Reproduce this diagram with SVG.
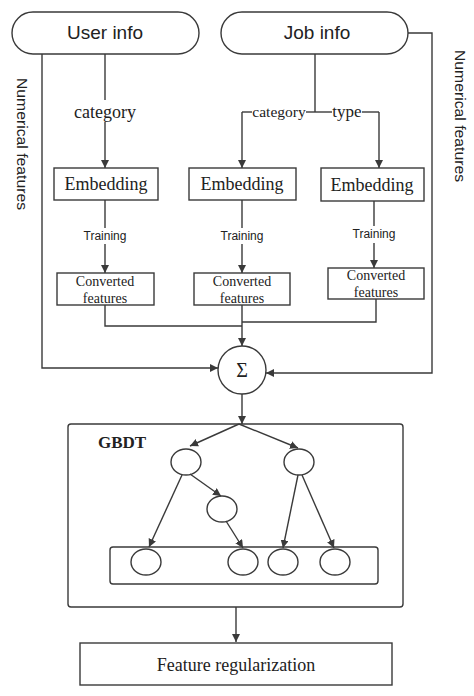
<svg xmlns="http://www.w3.org/2000/svg" width="474" height="696" viewBox="0 0 474 696">
<defs>
<marker id="ah" viewBox="0 0 10 10" refX="10" refY="5" markerWidth="8" markerHeight="8" markerUnits="userSpaceOnUse" orient="auto">
<path d="M0,0 L10,5 L0,10 z" fill="#3a3a3a"/>
</marker>
<style>
.box{fill:#fff;stroke:#3a3a3a;stroke-width:1.4}
.frame{fill:none;stroke:#3a3a3a;stroke-width:1.4}
.ln{fill:none;stroke:#3a3a3a;stroke-width:1.4}
.ar{fill:none;stroke:#3a3a3a;stroke-width:1.4;marker-end:url(#ah)}
.sans{font-family:"Liberation Sans",Arial,sans-serif;fill:#222}
.serif{font-family:"Liberation Serif","Times New Roman",serif;fill:#222}
</style>
</defs>
<rect width="474" height="696" fill="#fff"/>

<g id="user-info">
<rect class="box" x="12" y="12" width="187" height="42" rx="21"/>
<text class="sans" x="105" y="39" font-size="19" text-anchor="middle">User info</text>
</g>
<g id="job-info">
<rect class="box" x="221" y="12" width="187" height="42" rx="21"/>
<text class="sans" x="317" y="39" font-size="19" text-anchor="middle">Job info</text>
</g>

<g id="labels">
<text class="serif" x="105" y="118" font-size="18" text-anchor="middle">category</text>
<text class="serif" x="279" y="117" font-size="15.5" text-anchor="middle">category</text>
<text class="serif" x="347" y="117" font-size="17" text-anchor="middle">type</text>
<text class="sans" x="105" y="240" font-size="12" text-anchor="middle">Training</text>
<text class="sans" x="242" y="240" font-size="12" text-anchor="middle">Training</text>
<text class="sans" x="374" y="238" font-size="12" text-anchor="middle">Training</text>
<text class="sans" transform="translate(17,144) rotate(90)" font-size="15" text-anchor="middle" textLength="132" lengthAdjust="spacingAndGlyphs">Numerical features</text>
<text class="sans" transform="translate(455,116) rotate(90)" font-size="15" text-anchor="middle" textLength="132" lengthAdjust="spacingAndGlyphs">Numerical features</text>
</g>

<g id="embedding-1">
<rect class="box" x="54" y="168" width="104" height="32"/>
<text class="serif" x="106" y="190" font-size="18" text-anchor="middle">Embedding</text>
</g>
<g id="embedding-2">
<rect class="box" x="189" y="168" width="107" height="32"/>
<text class="serif" x="242" y="190" font-size="18" text-anchor="middle">Embedding</text>
</g>
<g id="embedding-3">
<rect class="box" x="321" y="168" width="103" height="33"/>
<text class="serif" x="372" y="191" font-size="18" text-anchor="middle">Embedding</text>
</g>

<g id="converted-1">
<rect class="box" x="57" y="273" width="97" height="32"/>
<text class="serif" x="105" y="286" font-size="14" text-anchor="middle">Converted</text>
<text class="serif" x="105" y="303" font-size="14" text-anchor="middle">features</text>
</g>
<g id="converted-2">
<rect class="box" x="194" y="273" width="96" height="32"/>
<text class="serif" x="242" y="286" font-size="14" text-anchor="middle">Converted</text>
<text class="serif" x="242" y="303" font-size="14" text-anchor="middle">features</text>
</g>
<g id="converted-3">
<rect class="box" x="328" y="268" width="96" height="31"/>
<text class="serif" x="376" y="280" font-size="14" text-anchor="middle">Converted</text>
<text class="serif" x="376" y="297" font-size="14" text-anchor="middle">features</text>
</g>

<g id="sum">
<circle class="box" cx="242" cy="370" r="24"/>
<text class="serif" x="242" y="377" font-size="20" text-anchor="middle">Σ</text>
</g>

<g id="gbdt">
<rect class="frame" x="68" y="424" width="335" height="183" rx="3"/>
<text class="serif" x="98" y="448" font-size="17" font-weight="bold">GBDT</text>
<ellipse class="box" cx="186" cy="462" rx="15" ry="13"/>
<ellipse class="box" cx="299" cy="462" rx="15" ry="13"/>
<ellipse class="box" cx="222" cy="509" rx="15" ry="13"/>
<rect class="frame" x="110" y="547" width="268" height="37" rx="3"/>
<ellipse class="box" cx="146" cy="562" rx="15" ry="13"/>
<ellipse class="box" cx="243" cy="562" rx="15" ry="13"/>
<ellipse class="box" cx="283" cy="562" rx="15" ry="13"/>
<ellipse class="box" cx="335" cy="562" rx="15" ry="13"/>
</g>

<g id="feature-regularization">
<rect class="box" x="80" y="643" width="312" height="42"/>
<text class="serif" x="236" y="671" font-size="18" text-anchor="middle">Feature regularization</text>
</g>

<g id="connectors">
<path class="ln" d="M105,54 V100"/>
<path class="ar" d="M105,122 V168"/>
<path class="ln" d="M315,54 V112"/>
<path class="ln" d="M252,112 H242"/>
<path class="ar" d="M242,112 V168"/>
<path class="ln" d="M306,112 H332"/>
<path class="ln" d="M362,112 H379"/>
<path class="ar" d="M379,112 V168"/>
<path class="ln" d="M105,200 V228"/>
<path class="ar" d="M105,244 V273"/>
<path class="ln" d="M242,200 V228"/>
<path class="ar" d="M242,244 V273"/>
<path class="ln" d="M374,201 V226"/>
<path class="ar" d="M374,243 V268"/>
<path class="ln" d="M105,305 V326 H242"/>
<path class="ln" d="M376,299 V322 H242"/>
<path class="ar" d="M242,305 V346"/>
<path class="ar" d="M42,54 V368 H218"/>
<path class="ar" d="M408,33 H432 V373 H266"/>
<path class="ar" d="M242,394 V424"/>
<path class="ar" d="M239,424 L190,446"/>
<path class="ar" d="M239,424 L298,448"/>
<path class="ar" d="M182,475 L149,547"/>
<path class="ar" d="M190,474 L221,496"/>
<path class="ar" d="M226,521 L243,548"/>
<path class="ar" d="M298,475 L283,548"/>
<path class="ar" d="M302,475 L334,548"/>
<path class="ar" d="M236,607 V642"/>
</g>
</svg>
